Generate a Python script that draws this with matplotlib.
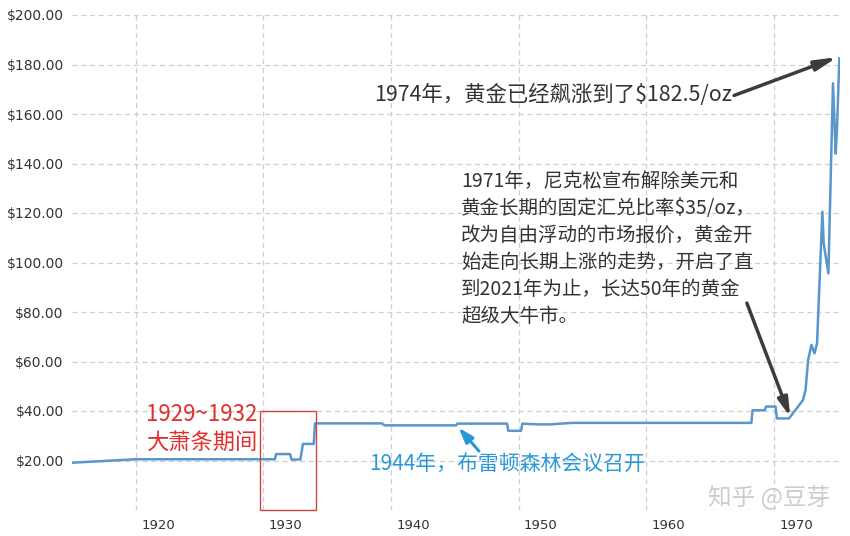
import numpy as np
import matplotlib
matplotlib.use('Agg')
import matplotlib.pyplot as plt
import matplotlib.transforms as mtransforms
from matplotlib.patches import Rectangle

plt.rcParams['font.family'] = ['Noto Sans CJK SC', 'DejaVu Sans']

# Gold price (USD/oz), breakpoints
years = [1915.0, 1920.0, 1930.9, 1931.0, 1932.1, 1932.2, 1932.9, 1933.1,
         1933.95, 1934.05, 1939.3, 1939.5, 1945.1, 1945.2, 1949.1, 1949.2,
         1950.2, 1950.3, 1951.5, 1952.5, 1954.2, 1968.25, 1968.35, 1969.3,
         1969.4, 1970.15, 1970.25, 1971.2, 1971.5, 1971.9, 1972.3, 1972.5,
         1972.7, 1972.96, 1973.2, 1973.4, 1973.82, 1973.92, 1974.29, 1974.65,
         1974.86, 1974.96, 1975.15]
prices = [19.1, 20.5, 20.5, 22.6, 22.6, 20.4, 20.4, 26.7,
          26.7, 35.0, 35.0, 34.2, 34.2, 34.9, 34.9, 32.0,
          32.0, 34.9, 34.6, 34.6, 35.2, 35.2, 40.3, 40.3,
          41.8, 41.8, 37.0, 37.0, 39.0, 41.7, 44.4, 48.5,
          60.6, 66.7, 63.3, 67.3, 120.5, 107.7, 95.6, 172.4,
          144.0, 153.5, 182.5]

x_ticks = [1920, 1930, 1940, 1950, 1960, 1970]
y_ticks = [0, 20, 40, 60, 80, 100, 120, 140, 160, 180, 200]
y_labels = ['', '$20.00', '$40.00', '$60.00', '$80.00', '$100.00', '$120.00',
            '$140.00', '$160.00', '$180.00', '$200.00']

fig = plt.figure(figsize=(8.5, 5.36), dpi=100)
ax = fig.add_axes([72/850, 1 - 510/536, 768/850, 495/536])

ax.plot(years, prices, color='#5896cc', lw=1.8, zorder=3)

ax.set_xlim(1915.0, 1975.2)
ax.set_ylim(0, 200)
ax.set_xticks(x_ticks)
ax.set_xticklabels([str(y) for y in x_ticks], fontsize=9.5, color='#333333',
                   family='DejaVu Sans')
ax.set_yticks(y_ticks)
ax.set_yticklabels(y_labels, fontsize=10, color='#333333', family='DejaVu Sans')
ax.tick_params(axis='both', length=0)
ax.tick_params(axis='x', pad=6.5)
ax.tick_params(axis='y', pad=6)
offset = mtransforms.ScaledTranslation(0.055, 0, fig.dpi_scale_trans)
for lab in ax.get_xticklabels():
    lab.set_horizontalalignment('left')
    lab.set_transform(lab.get_transform() + offset)

ax.grid(True, color='#cfcfcf', linestyle=(0, (4, 3)), lw=0.9)
for s in ax.spines.values():
    s.set_visible(False)

# 1929~1932
ax.add_patch(Rectangle((1929.76, 0), 4.4, 40, fill=False, edgecolor='#d04545',
                       lw=1.0, zorder=4, clip_on=False))
ax.text(1920.8, 33.0, '1929~1932\n大萧条期间', color='#e0302c', fontsize=16,
        ha='left', va='center', linespacing=1.28)

# 1944
ax.text(1938.3, 18.6, '1944年，布雷顿森林会议召开', color='#2a98d8', fontsize=15,
        ha='left', va='center')
ax.annotate('', xy=(1945.3, 33.3), xytext=(1946.9, 23.8),
            arrowprops=dict(arrowstyle='-|>,head_length=0.9,head_width=0.3',
                            color='#2a98d8', lw=2.2, shrinkA=0, shrinkB=0))

# 1971
txt71 = ('1971年，尼克松宣布解除美元和\n黄金长期的固定汇兑比率$35/oz，\n'
         '改为自由浮动的市场报价，黄金开\n始走向长期上涨的走势，开启了直\n'
         '到2021年为止，长达50年的黄金\n超级大牛市。')
ax.text(1945.5, 105.5, txt71, color='#333333', fontsize=14, ha='left',
        va='center', linespacing=1.38)
ax.annotate('', xy=(1971.3, 37.6), xytext=(1967.9, 83.6),
            arrowprops=dict(arrowstyle='-|>,head_length=1.1,head_width=0.3',
                            color='#3c3c3c', lw=2.5, shrinkA=0, shrinkB=0))

# 1974
ax.text(1938.7, 167.7, '1974年，黄金已经飙涨到了$182.5/oz', color='#333333',
        fontsize=15.4, ha='left', va='center')
ax.annotate('', xy=(1975.0, 183.0), xytext=(1966.9, 167.5),
            arrowprops=dict(arrowstyle='-|>,head_length=1.3,head_width=0.3',
                            color='#3c3c3c', lw=2.5, shrinkA=0, shrinkB=0))

# watermark
ax.text(1974.4, 5.3, '知乎 @豆芽', color='#cccccc', fontsize=17, ha='right',
        va='center', zorder=5)

fig.savefig('out.png', dpi=100)
